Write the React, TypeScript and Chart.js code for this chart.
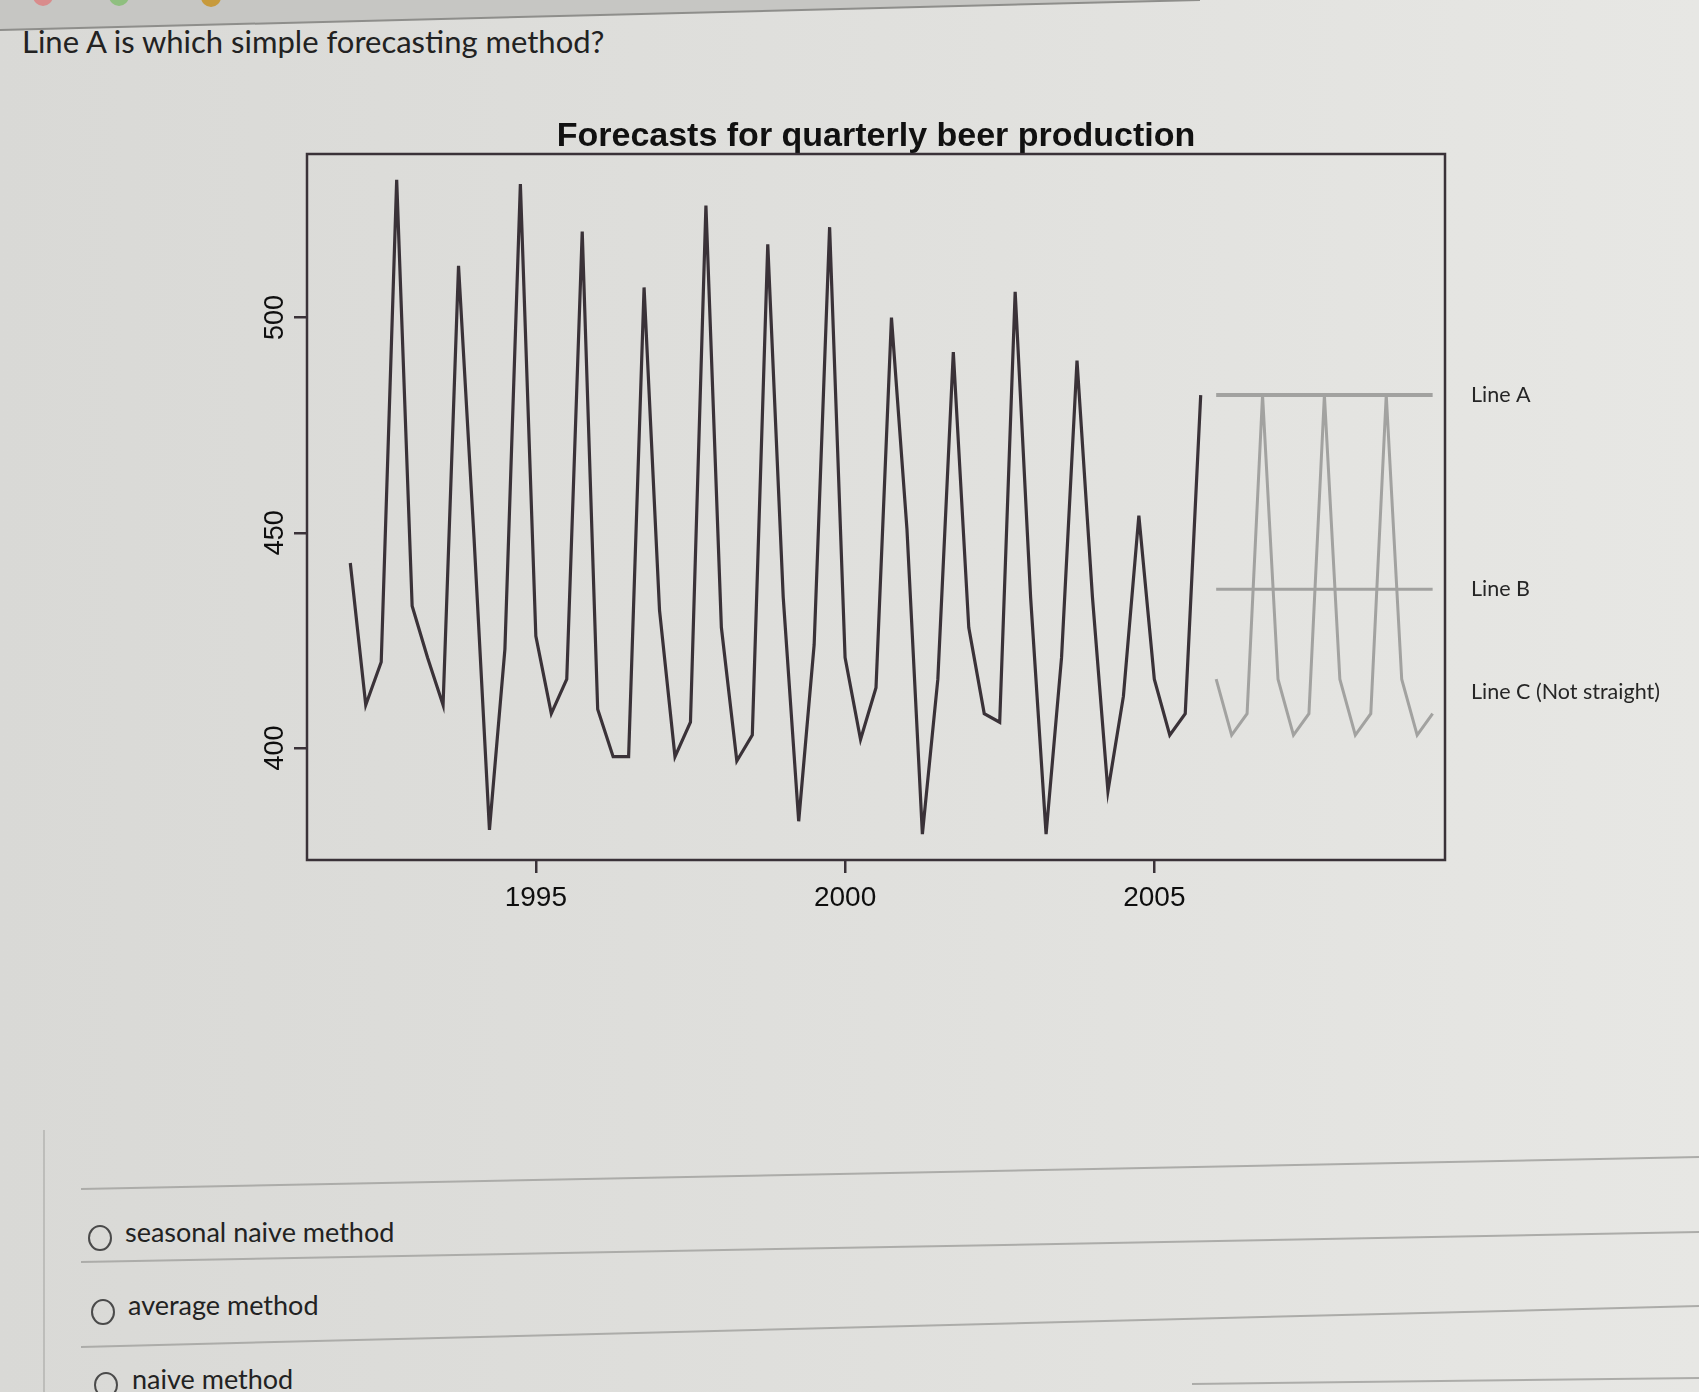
import React, { useEffect, useRef } from 'react';
import { Chart, registerables } from 'chart.js';

Chart.register(...registerables);

// Quarterly beer production (megalitres), 1992 Q1 – 2005 Q4
const historyStartYear = 1992;
const beerProduction = [
  443, 410, 420, 532,
  433, 421, 410, 512,
  449, 381, 423, 531,
  426, 408, 416, 520,
  409, 398, 398, 507,
  432, 398, 406, 526,
  428, 397, 403, 517,
  435, 383, 424, 521,
  421, 402, 414, 500,
  451, 380, 416, 492,
  428, 408, 406, 506,
  435, 380, 421, 490,
  435, 390, 412, 454,
  416, 403, 408, 482,
];

// Forecast horizon: 2006 Q1 – 2009 Q3
const forecastStartYear = 2006;
const seasonalNaiveForecast = [
  416, 403, 408, 482,
  416, 403, 408, 482,
  416, 403, 408, 482,
  416, 403, 408,
];
const naiveForecastLevel = 482;
const averageForecastLevel = 436.9;

const chartTitle = 'Forecasts for quarterly beer production';
const xTickYears = [1995, 2000, 2005];
const yTickValues = [400, 450, 500];
const lineTagLabels = ['Line A', 'Line B', 'Line C (Not straight)'];
const lineTagValues = [naiveForecastLevel, averageForecastLevel, 413];

const questionText = 'Line A is which simple forecasting method?';
const answerChoices = ['seasonal naive method', 'average method', 'naive method'];

const INK = '#3a3238';
const FORECAST_GREY = '#a2a2a0';
const AXIS_FONT = '"Liberation Sans", Arial, sans-serif';

const quarterX = (startYear: number, i: number) => startYear + i / 4;

const historyPoints = beerProduction.map((v, i) => ({ x: quarterX(historyStartYear, i), y: v }));
const seasonalPoints = seasonalNaiveForecast.map((v, i) => ({ x: quarterX(forecastStartYear, i), y: v }));
const horizonStart = quarterX(forecastStartYear, 0);
const horizonEnd = quarterX(forecastStartYear, seasonalNaiveForecast.length - 1);

// Closed frame around the plotting region
const frameBox = {
  id: 'frameBox',
  afterDatasetsDraw(chart: any) {
    const { ctx, chartArea: a } = chart;
    ctx.save();
    ctx.strokeStyle = INK;
    ctx.lineWidth = 2.5;
    ctx.strokeRect(a.left, a.top, a.right - a.left, a.bottom - a.top);
    ctx.restore();
  },
};

// Names of the three forecast lines, set beside the frame at each line's level
const lineTags = {
  id: 'lineTags',
  afterDraw(chart: any) {
    const { ctx, chartArea: a, scales } = chart;
    ctx.save();
    ctx.font = '21.5px Lato, sans-serif';
    ctx.fillStyle = '#262626';
    ctx.textBaseline = 'middle';
    ctx.textAlign = 'left';
    lineTagLabels.forEach((label, i) => {
      ctx.fillText(label, a.right + 26, scales.y.getPixelForValue(lineTagValues[i]));
    });
    ctx.restore();
  },
};

function ForecastChart() {
  const canvasRef = useRef<HTMLCanvasElement | null>(null);

  useEffect(() => {
    const canvas = canvasRef.current;
    if (!canvas) return;
    const chart = new Chart(canvas, {
      type: 'line',
      data: {
        datasets: [
          {
            label: 'Production',
            data: historyPoints,
            borderColor: INK,
            borderWidth: 3.2,
            pointRadius: 0,
            tension: 0,
          },
          {
            label: 'Line A',
            data: [
              { x: horizonStart, y: naiveForecastLevel },
              { x: horizonEnd, y: naiveForecastLevel },
            ],
            borderColor: FORECAST_GREY,
            borderWidth: 4,
            pointRadius: 0,
          },
          {
            label: 'Line B',
            data: [
              { x: horizonStart, y: averageForecastLevel },
              { x: horizonEnd, y: averageForecastLevel },
            ],
            borderColor: FORECAST_GREY,
            borderWidth: 3,
            pointRadius: 0,
          },
          {
            label: 'Line C',
            data: seasonalPoints,
            borderColor: FORECAST_GREY,
            borderWidth: 3,
            pointRadius: 0,
            tension: 0,
          },
        ],
      },
      options: {
        animation: false,
        responsive: false,
        maintainAspectRatio: false,
        events: [],
        layout: { padding: { left: 0, right: 254, top: 0, bottom: 60 } },
        plugins: {
          legend: { display: false },
          tooltip: { enabled: false },
          title: {
            display: true,
            text: chartTitle,
            fullSize: false,
            color: '#111111',
            font: { family: AXIS_FONT, size: 34, weight: 'bold', lineHeight: 1 },
            padding: { top: 120, bottom: 0 },
          },
        },
        scales: {
          x: {
            type: 'linear',
            min: 1991.3,
            max: 2009.7,
            afterBuildTicks: (scale: any) => {
              scale.ticks = xTickYears.map((v) => ({ value: v }));
            },
            afterFit: (scale: any) => {
              scale.height = 80;
            },
            ticks: {
              color: '#0e0e0e',
              font: { family: AXIS_FONT, size: 28 },
              padding: 8,
              maxRotation: 0,
              autoSkip: false,
              callback: (v: any) => String(v),
            },
            grid: {
              display: true,
              drawOnChartArea: false,
              drawTicks: true,
              tickLength: 13,
              color: INK,
              lineWidth: 2.5,
            },
            border: { display: false },
          },
          y: {
            type: 'linear',
            min: 374,
            max: 538,
            afterBuildTicks: (scale: any) => {
              scale.ticks = yTickValues.map((v) => ({ value: v }));
            },
            afterFit: (scale: any) => {
              scale.width = 307;
            },
            ticks: {
              color: '#0e0e0e',
              font: { family: AXIS_FONT, size: 27 },
              minRotation: 90,
              maxRotation: 90,
              crossAlign: 'center',
              padding: -4,
              autoSkip: false,
              callback: (v: any) => String(v),
            },
            grid: {
              display: true,
              drawOnChartArea: false,
              drawTicks: true,
              tickLength: 13,
              color: INK,
              lineWidth: 2.5,
            },
            border: { display: false },
          },
        },
      },
      plugins: [frameBox, lineTags],
    } as any);
    return () => chart.destroy();
  }, []);

  return (
    <canvas
      ref={canvasRef}
      width={1699}
      height={1000}
      style={{ position: 'absolute', left: 0, top: 0, width: 1699, height: 1000 }}
    />
  );
}

const choiceLayout = [
  { circleX: 100, circleY: 1238, textX: 125, baseline: 1243 },
  { circleX: 103, circleY: 1312, textX: 128, baseline: 1316 },
  { circleX: 106, circleY: 1385, textX: 132, baseline: 1390 },
];

export default function App() {
  const choiceSize = 27;
  return (
    <div
      style={{
        position: 'absolute',
        left: 0,
        top: 0,
        width: 1699,
        height: 1392,
        overflow: 'hidden',
        background: 'linear-gradient(90deg, #d9d9d6 0%, #dfdfdc 45%, #e7e7e4 100%)',
        fontFamily: 'Lato, sans-serif',
      }}
    >
      <svg width={1699} height={1392} style={{ position: 'absolute', left: 0, top: 0 }}>
        <polygon points="0,0 1200,0 0,30" fill="#c6c6c3" />
        <line x1={0} y1={30} x2={1200} y2={0} stroke="#8e8e8b" strokeWidth={2} />
        <circle cx={43} cy={-4} r={10} fill="#d98c8c" />
        <circle cx={119} cy={-4} r={10} fill="#8fbf7f" />
        <circle cx={211} cy={-3} r={10} fill="#c79a3c" />
        <line x1={44} y1={1130} x2={44} y2={1392} stroke="#b3b3b0" strokeWidth={1.5} />
        <line x1={81} y1={1189} x2={1699} y2={1157} stroke="#acaca9" strokeWidth={2} />
        <line x1={81} y1={1262} x2={1699} y2={1232} stroke="#acaca9" strokeWidth={2} />
        <line x1={81} y1={1347} x2={1699} y2={1306} stroke="#acaca9" strokeWidth={2} />
        <line x1={1192} y1={1384} x2={1699} y2={1378} stroke="#acaca9" strokeWidth={2} />
        {choiceLayout.map((c, i) => (
          <ellipse key={i} cx={c.circleX} cy={c.circleY} rx={11} ry={12} fill="none" stroke="#4a4a4a" strokeWidth={2} />
        ))}
      </svg>
      <div
        style={{
          position: 'absolute',
          left: 22,
          top: 23,
          fontSize: 31,
          lineHeight: 1.2,
          color: '#222222',
          whiteSpace: 'nowrap',
        }}
      >
        {questionText}
      </div>
      <ForecastChart />
      {answerChoices.map((label, i) => (
        <div
          key={label}
          style={{
            position: 'absolute',
            left: choiceLayout[i].textX,
            top: choiceLayout[i].baseline - Math.round(0.987 * choiceSize),
            fontSize: choiceSize,
            lineHeight: 1.2,
            color: '#222222',
            whiteSpace: 'nowrap',
          }}
        >
          {label}
        </div>
      ))}
    </div>
  );
}
